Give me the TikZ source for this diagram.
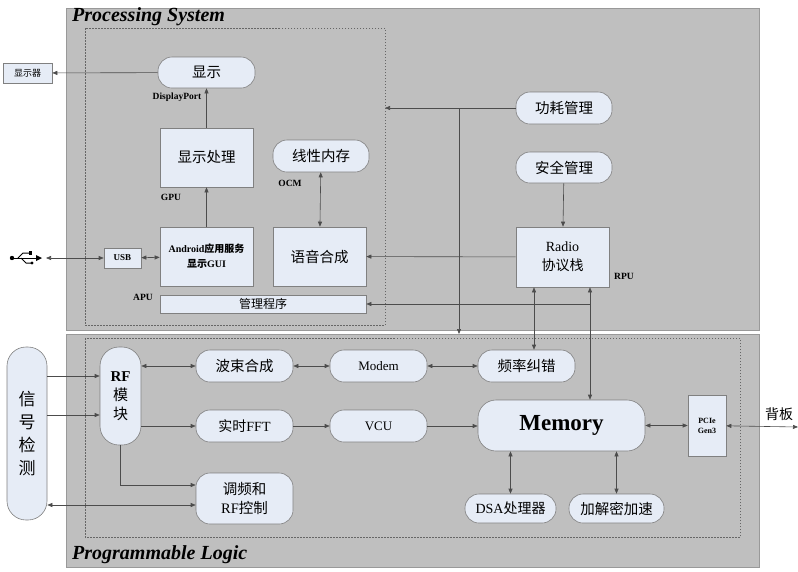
\documentclass[tikz,border=0pt]{standalone}
\usepackage{fontspec}
\setmainfont{Liberation Serif}
\newfontfamily\cjk{Noto Sans CJK SC}
\newcommand{\zh}[1]{{\cjk #1}}
\usetikzlibrary{arrows.meta}
\definecolor{bg}{HTML}{BFBFBF}
\definecolor{nf}{HTML}{E6ECF6}
\definecolor{nd}{HTML}{808080}
\begin{document}
\begin{tikzpicture}[x=1pt,y=-1pt,
  base/.style={draw=nd,fill=nf,line width=0.6pt,align=center,inner sep=0pt},
  bx/.style={base},
  rd/.style={base,rounded corners=14pt},
  lbl/.style={font=\bfseries\fontsize{9.5}{10}\selectfont,inner sep=0pt},
  ar/.style={draw=black!70,line width=0.6pt,-{Triangle[length=5pt,width=4pt]}},
  dar/.style={draw=black!70,line width=0.6pt,{Triangle[length=5pt,width=4pt]}-{Triangle[length=5pt,width=4pt]}},
  zf/.style={font=\cjk\fontsize{14.5}{16}\selectfont}]
\useasboundingbox (0,0) rectangle (798,571);
% backgrounds
\fill[bg,draw=black!40] (66,8) rectangle (759,330);
\fill[bg,draw=black!40] (66,334) rectangle (759,567);
\draw[black!60,dash pattern=on 1.5pt off 1.5pt] (85,28) rectangle (385,325);
\draw[black!60,dash pattern=on 1.5pt off 1.5pt] (85,338) rectangle (740,537);
\node[anchor=west,font=\bfseries\itshape\fontsize{20}{22}\selectfont,inner sep=0pt] (pst) at (72,17) {Processing System};
\node[anchor=west,font=\bfseries\itshape\fontsize{20}{22}\selectfont,inner sep=0pt] (plt) at (72,555) {Programmable Logic};
% PS nodes
\node[bx,minimum width=49pt,minimum height=20pt,font=\cjk\fontsize{9}{10}\selectfont] (disp) at (27.5,73) {显示器};
\node[rd,minimum width=97pt,minimum height=31pt,zf] (xs) at (206.5,72.5) {显示};
\node[lbl] (dp) at (177,97) {DisplayPort};
\node[bx,minimum width=93pt,minimum height=59pt,zf] (gpu) at (206.5,157.5) {显示处理};
\node[lbl] (gpul) at (171,197) {GPU};
\node[rd,minimum width=96pt,minimum height=32pt,zf] (ocm) at (321,156) {线性内存};
\node[lbl] (ocml) at (290,183) {OCM};
\node[bx,minimum width=93pt,minimum height=59pt,font=\bfseries\fontsize{10}{15}\selectfont] (and) at (206.5,256.5) {Android\zh{应用服务}\\\zh{显示}GUI};
\node[bx,minimum width=93pt,minimum height=59pt,zf] (yy) at (319.5,256.5) {语音合成};
\node[bx,minimum width=37pt,minimum height=20pt,font=\bfseries\fontsize{9}{10}\selectfont] (usb) at (122.5,258) {USB};
\node[lbl] (apul) at (143,297) {APU};
\node[bx,minimum width=206pt,minimum height=18pt,font=\cjk\fontsize{12}{13}\selectfont] (gl) at (263,304) {管理程序};
\node[rd,minimum width=96pt,minimum height=32pt,zf] (gh) at (564,108) {功耗管理};
\node[rd,minimum width=96pt,minimum height=31pt,zf] (aq) at (564,167.5) {安全管理};
\node[bx,minimum width=93pt,minimum height=60pt,font=\fontsize{14}{19}\selectfont] (radio) at (562.5,257) {Radio\\\zh{协议栈}};
\node[lbl] (rpul) at (624,276) {RPU};
% USB icon
\coordinate (ui) at (46,258);
\fill (12,258) circle (2.2pt);
\draw[line width=1pt] (12,258) -- (38,258);
\fill (42,258) -- (36,255) -- (36,261) -- cycle;
\draw[line width=1pt] (18,258) -- (23,253) -- (30,253);
\fill (29,251) rectangle (32,255);
\draw[line width=1pt] (21,258) -- (26,263) -- (31,263);
\fill (32,263) circle (1.6pt);
% PL nodes
\node[rd,rounded corners=19pt,minimum width=40pt,minimum height=173pt,font=\cjk\fontsize{17}{23}\selectfont] (sig) at (27,433.5) {信\\号\\检\\测};
\node[rd,rounded corners=19pt,minimum width=41pt,minimum height=98pt,font=\fontsize{15}{19}\selectfont] (rf) at (120.5,396) {\bfseries RF\\\zh{模}\\\zh{块}};
\node[rd,minimum width=97pt,minimum height=32pt,zf] (bs) at (244.5,366) {波束合成};
\node[rd,minimum width=97pt,minimum height=32pt,font=\fontsize{13}{14}\selectfont] (mod) at (378.5,366) {Modem};
\node[rd,minimum width=97pt,minimum height=32pt,zf] (pl) at (526.5,366) {频率纠错};
\node[rd,minimum width=97pt,minimum height=32pt,font=\fontsize{14}{15}\selectfont] (fft) at (244.5,426) {\zh{实时}FFT};
\node[rd,minimum width=97pt,minimum height=32pt,font=\fontsize{13}{14}\selectfont] (vcu) at (378.5,426) {VCU};
\node[rd,rounded corners=18pt,minimum width=167pt,minimum height=51pt,font=\bfseries\fontsize{23}{25}\selectfont] (mem) at (561.5,425.5) {Memory};
\node[bx,minimum width=38pt,minimum height=61pt,font=\bfseries\fontsize{8}{10}\selectfont] (pcie) at (707,425.5) {PCIe\\Gen3};
\node[font=\cjk\fontsize{14}{15}\selectfont,inner sep=0pt] (bb) at (779,414) {背板};
\coordinate (bbe) at (798,427);
\node[rd,minimum width=97pt,minimum height=51pt,font=\fontsize{14.5}{19}\selectfont] (tp) at (244.5,498.5) {\zh{调频和}\\RF\zh{控制}};
\node[rd,minimum width=91pt,minimum height=29pt,font=\fontsize{14}{15}\selectfont] (dsa) at (510.5,508.5) {DSA\zh{处理器}};
\node[rd,minimum width=95pt,minimum height=29pt,zf] (jm) at (616.5,508.5) {加解密加速};
% PS connectors
\draw[ar] (xs) -- (disp);
\draw[ar] (gpu) -- (xs);
\draw[ar] (and) -- (gpu);
\draw[dar] (ocm) -- (yy);
\draw[dar] (usb) -- (and);
\draw[dar] (ui) -- (usb);
\coordinate (ghl) at (385,108);
\draw[ar] (gh) -- (ghl);
\coordinate (jn) at (459,108);
\coordinate (jd) at (459,334);
\draw[ar] (jn) -- (jd);
\draw[ar] (aq) -- (radio);
\draw[ar] (radio) -- (yy);
\draw[dar] (radio.south -| 534,0) -- (pl.north -| 534,0);
\draw[dar] (radio.south -| 590,0) -- (mem.north -| 590,0);
\draw[ar] (590,304) -- (gl.east);
% PL connectors
\draw[ar] (sig.east |- 0,376) -- (rf.west |- 0,376);
\draw[ar] (sig.east |- 0,415) -- (rf.west |- 0,415);
\draw[dar] (rf.east |- bs) -- (bs);
\draw[dar] (bs) -- (mod);
\draw[dar] (mod) -- (pl);
\draw[ar] (rf.east |- fft) -- (fft);
\draw[ar] (fft) -- (vcu);
\draw[ar] (vcu) -- (mem.west |- vcu);
\draw[ar] (rf.south) |- (tp.west |- 0,485);
\draw[dar] (sig.east |- 0,505) -- (tp.west |- 0,505);
\draw[dar] (mem.south -| dsa) -- (dsa);
\draw[dar] (mem.south -| jm) -- (jm);
\draw[dar] (mem) -- (pcie);
\draw[dar] (pcie) -- (bbe);
\end{tikzpicture}
\end{document}
